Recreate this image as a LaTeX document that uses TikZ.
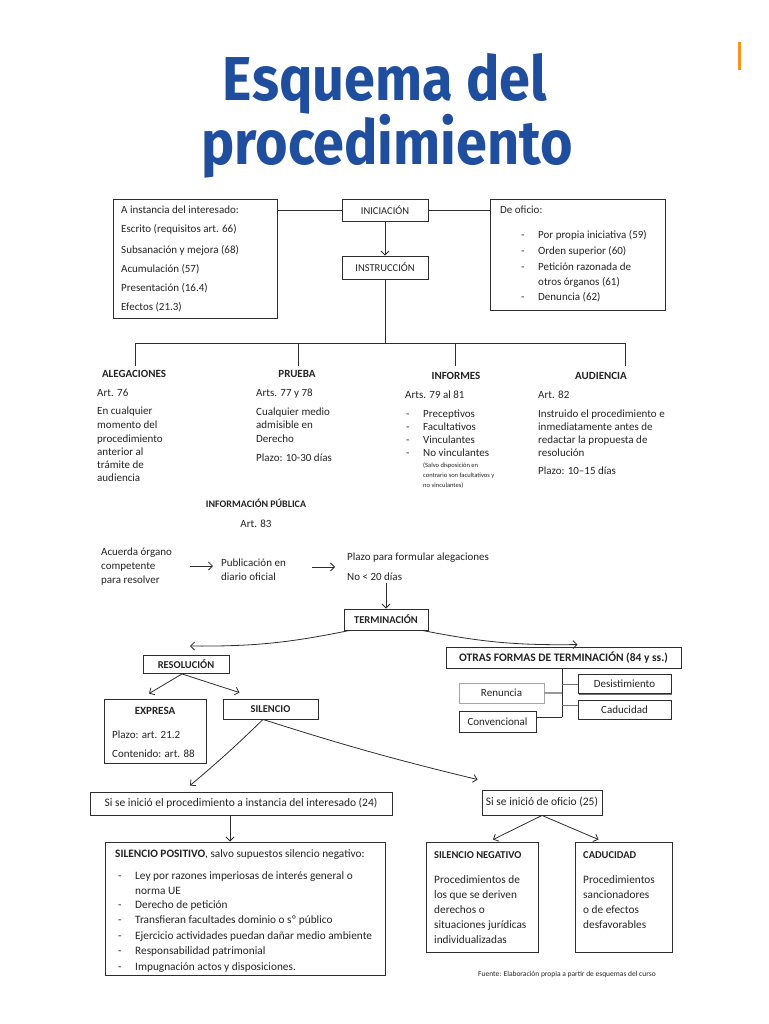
\documentclass[tikz,border=0pt]{standalone}
\usepackage{fontspec}
\setmainfont{Carlito}
\newfontfamily\titlefont{Fira Sans}
\usetikzlibrary{arrows.meta,shadows}
\definecolor{titleblue}{RGB}{31,78,158}
\definecolor{barorange}{RGB}{247,148,30}
\definecolor{ink}{RGB}{35,35,35}
\definecolor{frame}{RGB}{45,45,45}
\tikzset{
  t/.style={anchor=base west, inner sep=0pt, text=ink, font=\fontsize{11}{13}\selectfont},
  tb/.style={t, font=\fontsize{11.3}{13}\selectfont},
  tc/.style={anchor=base, inner sep=0pt, text=ink, font=\fontsize{11}{13}\selectfont},
  hd/.style={anchor=base, inner sep=0pt, text=ink, font=\fontsize{11}{13}\selectfont\bfseries},
  sm/.style={anchor=base west, inner sep=0pt, text=ink, font=\fontsize{6.5}{7.5}\selectfont},
  frm/.style={draw=frame, line width=0.9pt, inner sep=0pt, text=ink},
  lbox/.style={frm, minimum height=22, font=\fontsize{10.5}{12}\selectfont},
  bbox/.style={lbox, font=\fontsize{10.5}{12}\selectfont\bfseries},
  shbox/.style={lbox, drop shadow={shadow xshift=1.2pt, shadow yshift=-1.2pt, opacity=0.55, fill=black}, fill=white},
  link/.style={draw=frame, line width=0.8pt},
  arr/.style={link, -{Straight Barb[length=4pt,width=8pt]}},
  ttl/.style={anchor=base, inner sep=0pt, text=titleblue, font=\titlefont\bfseries\fontsize{62}{64}\selectfont},
}
\begin{document}
\begin{tikzpicture}[x=1pt,y=-1pt]
\useasboundingbox (0,0) rectangle (768,1024);
% title
\node[ttl] (t1) at (385,101) {\scalebox{0.9}[1]{Esquema del}};
\node[ttl] (t2) at (387,165) {\scalebox{0.9}[1]{procedimiento}};
\fill[barorange] (738,42) rectangle (741,70);

% top
\node[frm, minimum width=164, minimum height=119] (inter) at (195,258.5) {};
\node[t] (i0) at (121,214) {A instancia del interesado:};
\node[t] (i1) at (121,233) {Escrito (requisitos art. 66)};
\node[t] (i2) at (121,253) {Subsanación y mejora (68)};
\node[t] (i3) at (121,272) {Acumulación (57)};
\node[t] (i4) at (121,291) {Presentación (16.4)};
\node[t] (i5) at (121,310) {Efectos (21.3)};

\node[lbox, minimum width=86] (inic) at (385,210) {INICIACIÓN};
\node[lbox, minimum width=86, minimum height=23] (instr) at (385,267.5) {INSTRUCCIÓN};

\node[frm, minimum width=175, minimum height=111] (ofic) at (577.5,254.5) {};
\node[t] (o0) at (500,214) {De oficio:};
\node[t] (od1) at (521,239) {-};
\node[t] (o1) at (538,239) {Por propia iniciativa (59)};
\node[t] (od2) at (521,254) {-};
\node[t] (o2) at (538,254) {Orden superior (60)};
\node[t] (od3) at (521,270) {-};
\node[t] (o3) at (538,270) {Petición razonada de};
\node[t] (o4) at (538,285) {otros órganos (61)};
\node[t] (od5) at (521,300) {-};
\node[t] (o5) at (538,300) {Denuncia (62)};

\draw[link] (inic.west) -- (inic.west -| inter.east);
\draw[link] (inic.east) -- (inic.east -| ofic.west);
\draw[arr] (inic) -- (instr);

\coordinate (b1) at (135,343);
\coordinate (b2) at (298,343);
\coordinate (b3) at (455,343);
\coordinate (b4) at (625,343);
\coordinate (d1) at (135,366);
\coordinate (d2) at (298,366);
\coordinate (d3) at (455,366);
\coordinate (d4) at (625,366);
\draw[link] (instr.south) -- (instr.south |- b1);
\draw[link] (d1) -- (b1) -- (b4) -- (d4);
\draw[link] (b2) -- (d2);
\draw[link] (b3) -- (d3);

% columns
\node[hd] (hA) at (134,377) {ALEGACIONES};
\node[hd] (hP) at (297,377) {PRUEBA};
\node[hd] (hI) at (456,379) {INFORMES};
\node[hd] (hU) at (601,379) {AUDIENCIA};

\node[t] (a1) at (97,396) {Art. 76};
\node[t] (a2) at (97,414) {En cualquier};
\node[t] (a3) at (97,428) {momento del};
\node[t] (a4) at (97,442) {procedimiento};
\node[t] (a5) at (97,455) {anterior al};
\node[t] (a6) at (97,468) {trámite de};
\node[t] (a7) at (97,481) {audiencia};

\node[t] (p1) at (256,396) {Arts. 77 y 78};
\node[t] (p2) at (256,415) {Cualquier medio};
\node[t] (p3) at (256,428) {admisible en};
\node[t] (p4) at (256,442) {Derecho};
\node[t] (p5) at (256,461) {Plazo: 10-30 días};

\node[t] (n1) at (405,398) {Arts. 79 al 81};
\node[t] (nd2) at (406,417) {-};
\node[t] (n2) at (423,417) {Preceptivos};
\node[t] (nd3) at (406,430) {-};
\node[t] (n3) at (423,430) {Facultativos};
\node[t] (nd4) at (406,443) {-};
\node[t] (n4) at (423,443) {Vinculantes};
\node[t] (nd5) at (406,456) {-};
\node[t] (n5) at (423,456) {No vinculantes};
\node[sm] (n6) at (423,467) {(Salvo disposición en};
\node[sm] (n7) at (423,477) {contrario son facultativos y};
\node[sm] (n8) at (423,487) {no vinculantes)};

\node[t] (u1) at (538,398) {Art. 82};
\node[t] (u2) at (538,417) {Instruido el procedimiento e};
\node[t] (u3) at (538,430) {inmediatamente antes de};
\node[t] (u4) at (538,443) {redactar la propuesta de};
\node[t] (u5) at (538,456) {resolución};
\node[t] (u6) at (538,474) {Plazo: 10–15 días};

% informacion publica
\node[hd, font=\fontsize{10}{12}\selectfont\bfseries] (ip1) at (256,507) {INFORMACIÓN PÚBLICA};
\node[tc] (ip2) at (256,527) {Art. 83};

\node[t] (ac1) at (101,555) {Acuerda órgano};
\node[t] (ac2) at (101,569) {competente};
\node[t] (ac3) at (101,583) {para resolver};
\node[t] (pu1) at (221,566) {Publicación en};
\node[t] (pu2) at (221,580) {diario oficial};
\node[t] (pz1) at (347,560) {Plazo para formular alegaciones};
\node[t] (pz2) at (347,580) {No < 20 días};
\coordinate (r1s) at (190,566);
\coordinate (r1e) at (213,566);
\coordinate (r2s) at (312,567);
\coordinate (r2e) at (335,567);
\draw[arr] (r1s) -- (r1e);
\draw[arr] (r2s) -- (r2e);

\node[bbox, minimum width=84, minimum height=21] (term) at (386,619.5) {TERMINACIÓN};
\draw[arr] ([yshift=-3pt]term.north |- pz2.south) -- (term.north);

% resolucion
\node[bbox, minimum width=86, minimum height=18] (res) at (186,664.5) {RESOLUCIÓN};
\node[bbox, font=\fontsize{11.5}{13}\selectfont\bfseries, minimum width=235, minimum height=21] (otras) at (563.5,657.5) {OTRAS FORMAS DE TERMINACIÓN (84 y ss.)};
\draw[arr] ([xshift=6pt]term.south west) to[bend left=6] ([xshift=4pt,yshift=9pt]res.north);
\draw[arr] ([xshift=-6pt]term.south east) to[bend right=6] ([xshift=14pt,yshift=2pt]otras.north);

\node[frm, minimum width=102, minimum height=64] (expr) at (155,731) {};
\node[hd] (e1) at (155,714) {EXPRESA};
\node[t] (e2) at (112,738) {Plazo: art. 21.2};
\node[t] (e3) at (112,757) {Contenido: art. 88};
\node[bbox, minimum width=95, minimum height=20] (sil) at (270.5,709) {SILENCIO};
\draw[arr] ([xshift=-4pt]res.south) -- ([xshift=-6pt,yshift=5pt]expr.north);
\draw[arr] ([xshift=-4pt]res.south) -- ([xshift=-31pt,yshift=6pt]sil.north);

% otras formas
\node[lbox, font=\fontsize{11}{13}\selectfont, draw=black!35, minimum width=85, minimum height=20] (ren) at (501.5,693) {Renuncia};
\node[lbox, font=\fontsize{11}{13}\selectfont, minimum width=77, minimum height=21] (conv) at (497.5,721.5) {Convencional};
\node[shbox, font=\fontsize{11}{13}\selectfont, minimum width=93, minimum height=19] (des) at (624.5,684) {Desistimiento};
\node[shbox, font=\fontsize{11}{13}\selectfont, minimum width=93, minimum height=19] (cadb) at (624.5,709.5) {Caducidad};
\coordinate (vx) at (562,700);
\draw[link] (otras.south -| vx) -- ([yshift=4.5pt]conv.east -| vx);
\draw[draw=black!40, line width=2pt] (ren.east) -- (ren.east -| vx);
\draw[link, draw=black!55] (des.west) -- (des.west -| vx);
\draw[link, draw=black!55] ([yshift=4pt]cadb.west) -- ([yshift=4pt]cadb.west -| vx);
\draw[link] ([yshift=4.5pt]conv.east) -- ([yshift=4.5pt]conv.east -| vx);

% silencio
\node[lbox, font=\fontsize{11.5}{13}\selectfont, minimum width=302, minimum height=23] (si1) at (241,803.5) {Si se inició el procedimiento a instancia del interesado (24)};
\node[lbox, font=\fontsize{11.5}{13}\selectfont, minimum width=120, minimum height=25] (si2) at (542,802.5) {Si se inició de oficio (25)};
\draw[arr] ([xshift=-7.5pt]sil.south) to[bend left=2] ([xshift=-51pt,yshift=6pt]si1.north);
\draw[arr] ([xshift=-7.5pt]sil.south) to[bend right=2] ([xshift=-4pt,yshift=10pt]si2.north west);

\node[frm, minimum width=280, minimum height=133] (spos) at (245,908.5) {};
\draw[arr] ([xshift=-11pt]si1.south) -- ([xshift=-11pt]si1.south |- spos.north);
\node[tb] (s0) at (115,857) {\textbf{SILENCIO POSITIVO}, salvo supuestos silencio negativo:};
\node[tb] (sd1) at (118,879) {-};
\node[tb] (s1) at (135,879) {Ley por razones imperiosas de interés general o};
\node[tb] (s2) at (135,894) {norma UE};
\node[tb] (sd3) at (118,908) {-};
\node[tb] (s3) at (135,908) {Derecho de petición};
\node[tb] (sd4) at (118,923) {-};
\node[tb] (s4) at (135,923) {Transfieran facultades dominio o sº público};
\node[tb] (sd5) at (118,939) {-};
\node[tb] (s5) at (135,939) {Ejercicio actividades puedan dañar medio ambiente};
\node[tb] (sd6) at (118,954) {-};
\node[tb] (s6) at (135,954) {Responsabilidad patrimonial};
\node[tb] (sd7) at (118,970) {-};
\node[tb] (s7) at (135,970) {Impugnación actos y disposiciones.};

\node[frm, minimum width=112, minimum height=110] (sneg) at (482,897) {};
\node[frm, minimum width=97, minimum height=110] (cad) at (623.5,897) {};
\draw[arr] (si2.south) -- ([xshift=11pt,yshift=2pt]sneg.north);
\draw[arr] (si2.south) -- ([xshift=-25pt,yshift=2pt]cad.north);
\node[t, font=\fontsize{10.5}{12}\selectfont\bfseries] (g0) at (434,858) {SILENCIO NEGATIVO};
\node[tb] (g1) at (434,883) {Procedimientos de};
\node[tb] (g2) at (434,898) {los que se deriven};
\node[tb] (g3) at (434,913) {derechos o};
\node[tb] (g4) at (434,928) {situaciones jurídicas};
\node[tb] (g5) at (434,943) {individualizadas};
\node[t, font=\fontsize{10.5}{12}\selectfont\bfseries] (c0) at (583,858) {CADUCIDAD};
\node[tb] (c1) at (583,883) {Procedimientos};
\node[tb] (c2) at (583,898) {sancionadores};
\node[tb] (c3) at (583,913) {o de efectos};
\node[tb] (c4) at (583,928) {desfavorables};

\node[sm, font=\fontsize{7.5}{9}\selectfont] (ft) at (478,976) {Fuente: Elaboración propia a partir de esquemas del curso};
\end{tikzpicture}
\end{document}
